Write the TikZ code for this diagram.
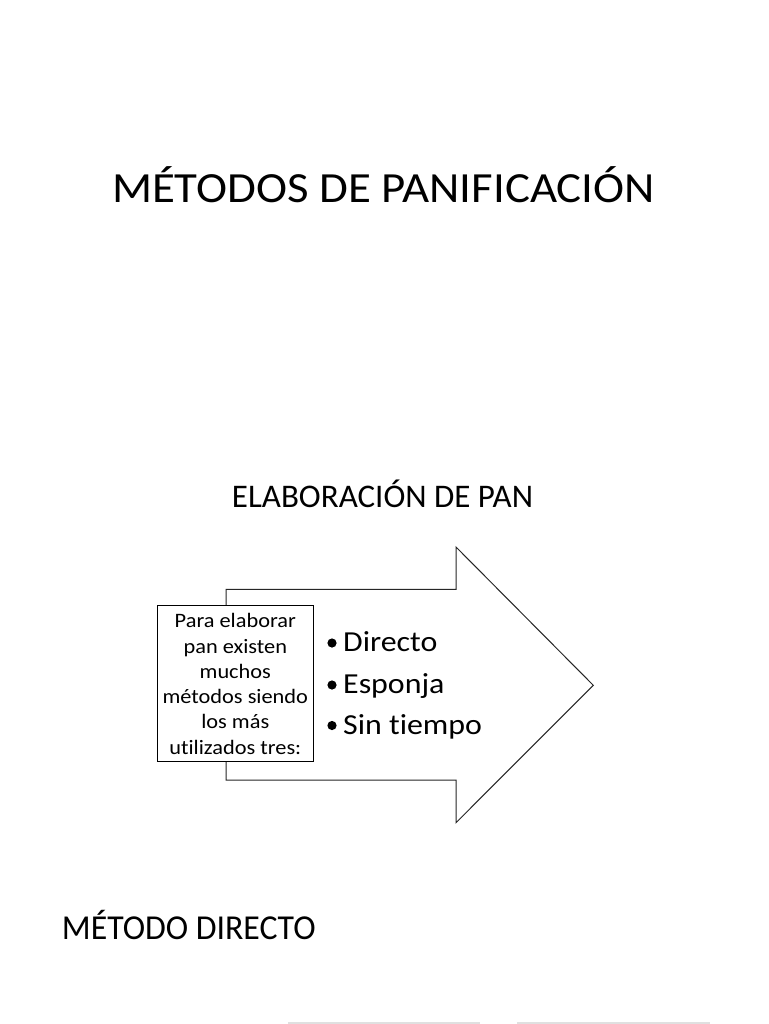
\documentclass[tikz,border=0pt]{standalone}
\usepackage{fontspec}
\setmainfont{Carlito}[Ligatures=NoCommon]
\newfontfamily\widefont{Carlito}[FakeStretch=1.09, Ligatures=NoCommon]
\newfontfamily\itemfont{Carlito}[FakeStretch=1.1, Ligatures=NoCommon]
\newfontfamily\narrowfont{Carlito}[FakeStretch=0.965, Ligatures=NoCommon]
\begin{document}
\begin{tikzpicture}[x=1pt,y=-1pt,
  titletext/.style={font=\widefont\fontsize{43}{52}\selectfont, inner sep=0pt, anchor=base},
  headtext/.style={font=\fontsize{33}{40}\selectfont, inner sep=0pt, anchor=base},
  itemtext/.style={font=\itemfont\fontsize{29}{35}\selectfont, inner sep=0pt, anchor=base west},
  boxtext/.style={font=\widefont\fontsize{20.5}{25.3}\selectfont, align=center, inner sep=0pt},
  outline/.style={draw=black!85, line width=1pt, line join=miter},
  bulletdot/.style={fill=black},
  faint/.style={draw=black!12, line width=1.2pt}]
\useasboundingbox (0,0) rectangle (768,1024);
\fill[white] (0,0) rectangle (768,1024);

\node[titletext] (title) at (383.5,202.3) {MÉTODOS DE PANIFICACIÓN};
\node[headtext] (head) at (382.5,507.3) {ELABORACIÓN DE PAN};

% arrow
\draw[outline, fill=white] (226,589.3) -- (456,589.3) -- (456,547) -- (593.3,685.3)
  -- (456,822.7) -- (456,780) -- (226,780) -- cycle;

% box
\draw[outline, draw=black, fill=white] (157.3,605.3) rectangle (313.3,761.7);
\node[boxtext] (box) at (235.3,684) {Para elaborar\\pan existen\\muchos\\métodos siendo\\los más\\utilizados tres:};

% items
\fill[bulletdot] (332,643) circle (4.6);
\fill[bulletdot] (332,685) circle (4.6);
\fill[bulletdot] (332,725.5) circle (4.6);
\node[itemtext] (i1) at (343,651.7) {Directo};
\node[itemtext] (i2) at (343,693) {Esponja};
\node[itemtext] (i3) at (343,734) {Sin tiempo};

\node[inner sep=0pt, anchor=base west, font=\narrowfont\fontsize{35}{42}\selectfont] (sec) at (61.7,939.3) {MÉTODO DIRECTO};

\draw[faint] (288,1023) -- (480,1023);
\draw[faint] (517,1023) -- (710,1023);
\end{tikzpicture}
\end{document}
